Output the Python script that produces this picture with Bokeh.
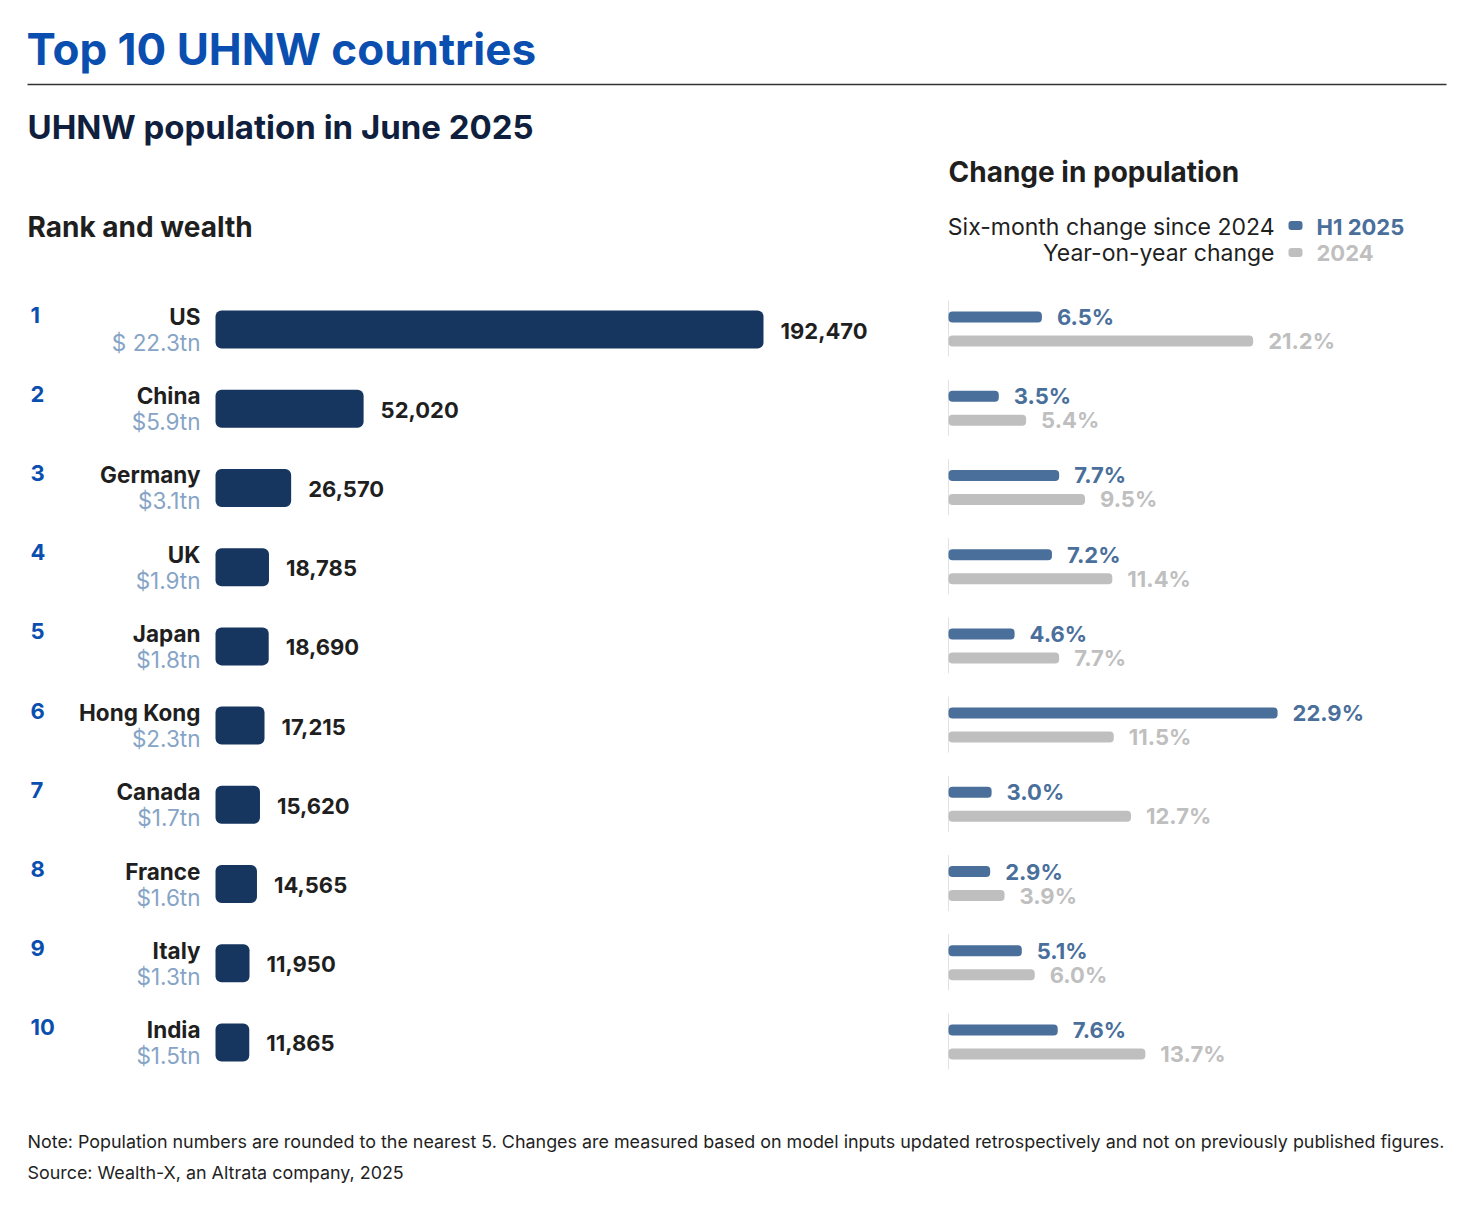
from bokeh.plotting import figure
from bokeh.models import Range1d, ColumnDataSource
from bokeh.transform import dodge
from bokeh.core.properties import value
from bokeh.embed import file_html
from bokeh.resources import INLINE

# ---- data ----
ranks = [1, 2, 3, 4, 5, 6, 7, 8, 9, 10]
countries = ["US", "China", "Germany", "UK", "Japan", "Hong Kong", "Canada", "France", "Italy", "India"]
wealth = ["$ 22.3tn", "$5.9tn", "$3.1tn", "$1.9tn", "$1.8tn", "$2.3tn", "$1.7tn", "$1.6tn", "$1.3tn", "$1.5tn"]
population = [192470, 52020, 26570, 18785, 18690, 17215, 15620, 14565, 11950, 11865]
h1_2025 = [6.5, 3.5, 7.7, 7.2, 4.6, 22.9, 3.0, 2.9, 5.1, 7.6]
yoy_2024 = [21.2, 5.4, 9.5, 11.4, 7.7, 11.5, 12.7, 3.9, 6.0, 13.7]

W, H = 1474, 1210
NAVY = "#16365f"
BLUE = "#4a6f9b"
GREY = "#bfbfbf"
TITLE_BLUE = "#0a4fb0"
DARK = "#1f1f1f"
WEALTH_C = "#86a4c6"
FONT = value("Inter")

src = ColumnDataSource(dict(
    row=[r - 1 for r in ranks],
    rank=[str(r) for r in ranks],
    country=countries,
    wealth=wealth,
    pop=population,
    pop_lbl=[f"{v:,}" for v in population],
    h1=h1_2025,
    h1_lbl=[f"{v:.1f}%" for v in h1_2025],
    yoy=yoy_2024,
    yoy_lbl=[f"{v:.1f}%" for v in yoy_2024],
))

p = figure(width=W, height=H, output_backend="svg", toolbar_location=None,
           x_range=Range1d(0, W), y_range=Range1d(H, 0),
           min_border=0, min_border_left=0, min_border_right=0,
           min_border_top=0, min_border_bottom=0)
p.axis.visible = False
p.grid.visible = False
p.outline_line_color = None
p.background_fill_color = "white"
p.border_fill_color = "white"

# row scale: row 0 centred at 329 px, spacing 79.22 px
row0, step = 329.0, 79.22
p.extra_y_ranges = {"rows": Range1d(start=(H - row0) / step, end=-row0 / step)}
# population scale: 0 at 215 px, 192470 at 763 px
px0, k = 215.0, 548.0 / 192470
p.extra_x_ranges = {
    "pop": Range1d(start=-px0 / k, end=(W - px0) / k),
}
cx0, ck = 948.0, 14.37
p.extra_x_ranges["chg"] = Range1d(start=-cx0 / ck, end=(W - cx0) / ck)

# ---- headings ----
p.text(x=[26], y=[48], text=["Top 10 UHNW countries"], text_font=FONT, text_font_style="bold",
       text_font_size="44px", text_color=TITLE_BLUE, text_baseline="middle")
p.segment(x0=[27], x1=[1446], y0=[84], y1=[84], line_color="#333333", line_width=1.5)
p.text(x=[27], y=[126], text=["UHNW population in June 2025"], text_font=FONT, text_font_style="bold",
       text_font_size="33px", text_color="#0f1f3d", text_baseline="middle")
p.text(x=[27], y=[226], text=["Rank and wealth"], text_font=FONT, text_font_style="bold",
       text_font_size="28px", text_color=DARK, text_baseline="middle")
p.text(x=[948], y=[171], text=["Change in population"], text_font=FONT, text_font_style="bold",
       text_font_size="28px", text_color=DARK, text_baseline="middle")

# legend
p.text(x=[1274, 1274], y=[226, 252], text=["Six-month change since 2024", "Year-on-year change"],
       text_font=FONT, text_font_size="23px", text_color=DARK, text_align="right",
       text_baseline="middle")
p.rect(x=[1295, 1295], y=[225, 252], width=14, height=9, fill_color=[BLUE, GREY],
       line_color=None, border_radius=3)
p.text(x=[1316, 1316], y=[226, 252], text=["H1 2025", "2024"], text_font=FONT,
       text_font_style="bold", text_font_size="22px", text_color=[BLUE, GREY],
       text_baseline="middle")

# ---- left panel ----
p.text(x=30, y="row", text="rank", source=src, y_range_name="rows", y_offset=-15,
       text_font=FONT, text_font_style="bold", text_font_size="22px", text_color=TITLE_BLUE,
       text_baseline="middle")
p.text(x=200, y="row", text="country", source=src, y_range_name="rows", y_offset=-13,
       text_font=FONT, text_font_style="bold", text_font_size="22.5px", text_color=DARK,
       text_align="right", text_baseline="middle")
p.text(x=200, y="row", text="wealth", source=src, y_range_name="rows", y_offset=13,
       text_font=FONT, text_font_size="22.5px", text_color=WEALTH_C,
       text_align="right", text_baseline="middle")
p.hbar(y="row", left=0, right="pop", height=38 / step, source=src,
       x_range_name="pop", y_range_name="rows", fill_color=NAVY, line_color=None,
       border_radius=6)
p.text(x="pop", y="row", text="pop_lbl", source=src, x_range_name="pop", y_range_name="rows",
       x_offset=17, y_offset=1, text_font=FONT, text_font_style="bold", text_font_size="22px",
       text_color=DARK, text_baseline="middle")

# ---- right panel ----
p.segment(x0=0, x1=0, y0=dodge("row", -29 / step), y1=dodge("row", 27 / step), source=src,
          x_range_name="chg", y_range_name="rows", line_color="#e2e2e2", line_width=1)
bh = 11 / step
p.hbar(y=dodge("row", -12.5 / step), left=0, right="h1", height=bh, source=src,
       x_range_name="chg", y_range_name="rows", fill_color=BLUE, line_color=None,
       border_radius=4)
p.hbar(y=dodge("row", 11.5 / step), left=0, right="yoy", height=bh, source=src,
       x_range_name="chg", y_range_name="rows", fill_color=GREY, line_color=None,
       border_radius=4)
p.text(x="h1", y=dodge("row", -12.5 / step), text="h1_lbl", source=src, x_range_name="chg",
       y_range_name="rows", x_offset=15, text_font=FONT, text_font_style="bold",
       text_font_size="22px", text_color=BLUE, text_baseline="middle")
p.text(x="yoy", y=dodge("row", 11.5 / step), text="yoy_lbl", source=src, x_range_name="chg",
       y_range_name="rows", x_offset=15, text_font=FONT, text_font_style="bold",
       text_font_size="22px", text_color=GREY, text_baseline="middle")

# ---- footnotes ----
p.text(x=[27, 27], y=[1141, 1172],
       text=["Note: Population numbers are rounded to the nearest 5. Changes are measured based on model inputs updated retrospectively and not on previously published figures.",
             "Source: Wealth-X, an Altrata company, 2025"],
       text_font=FONT, text_font_size="17.9px", text_color=DARK,
       text_baseline="middle")

open("out.html", "w").write(file_html(p, INLINE))
